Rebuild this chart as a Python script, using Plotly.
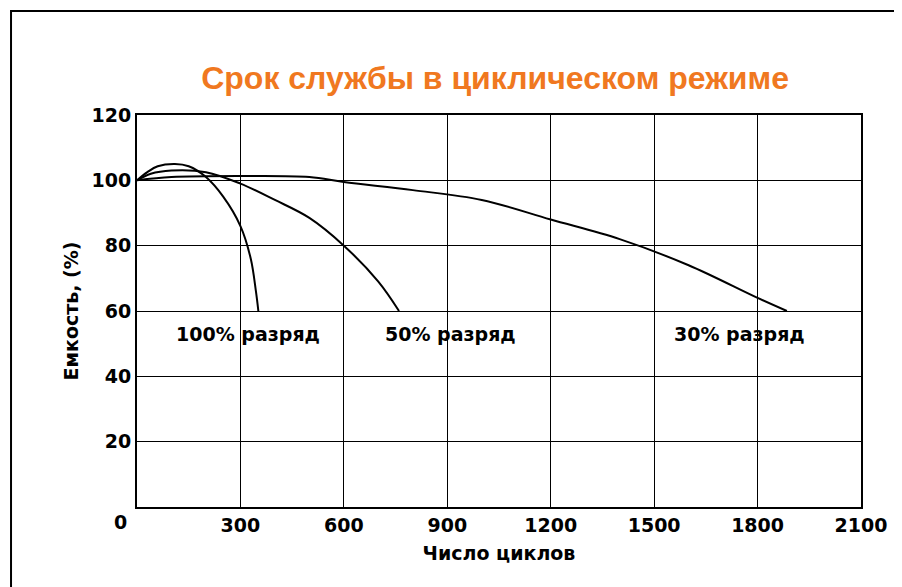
import plotly.graph_objects as go

x100 = [0, 30, 60, 110, 150, 200, 250, 300, 330, 345, 352]
y100 = [100, 102.5, 104.3, 105, 104.3, 101, 95, 86, 76, 66, 60]
x50 = [0, 40, 100, 200, 300, 400, 500, 600, 700, 760]
y50 = [100, 102, 103, 102.5, 99, 94, 88.5, 80, 69, 60]
x30 = [0, 100, 300, 500, 600, 800, 1000, 1200, 1400, 1600, 1800, 1885]
y30 = [100, 101, 101.3, 101, 99.5, 97, 94, 88, 82, 74, 64, 60]
xticks = [0, 300, 600, 900, 1200, 1500, 1800, 2100]
yticks = [0, 20, 40, 60, 80, 100, 120]
labels = [("100% разряд", 322), ("50% разряд", 908), ("30% разряд", 1749)]

BF = dict(family="DejaVu Sans", size=19, color="black", weight="bold")
fig = go.Figure()
for xs, ys in [(x100, y100), (x50, y50), (x30, y30)]:
    fig.add_trace(go.Scatter(x=xs, y=ys, mode="lines", line=dict(color="black", width=2, shape="spline"), showlegend=False))
for t, xv in labels:
    fig.add_annotation(x=xv, y=53, text=t, showarrow=False, xanchor="center", font=BF)
fig.update_layout(
    width=902, height=587, paper_bgcolor="white", plot_bgcolor="white",
    margin=dict(l=129, r=49, t=107, b=88, autoexpand=False),
    title=dict(text="Срок службы в циклическом режиме", x=0.54, xanchor="center", y=0.9,
               font=dict(family="Liberation Sans", size=32, color="#f07820")),
    font=BF,
    shapes=[dict(type="rect", xref="paper", yref="paper", x0=-0.174, x1=1.0635, y0=-0.217, y1=1.265,
                 line=dict(color="black", width=2))],
)
fig.update_xaxes(range=[0, 2100], tickvals=xticks, ticktext=[""] + [str(v) for v in xticks[1:]],
                 showgrid=True, gridcolor="black", gridwidth=1, showline=True, linecolor="black",
                 linewidth=2, mirror=True, zeroline=False, tickfont=BF, automargin=False,
                 title=dict(text="Число циклов", font=BF, standoff=12))
fig.update_yaxes(range=[0, 120], tickvals=yticks, ticktext=["", "20", "40", "60", "80", "100", "120"],
                 showgrid=True, gridcolor="black", gridwidth=1, showline=True, linecolor="black",
                 linewidth=2, mirror=True, zeroline=False, tickfont=BF, automargin=False,
                 title=dict(text="Емкость, (%)", font=BF, standoff=8))
fig.add_annotation(x=0, y=0, text="0", showarrow=False, xanchor="right", yanchor="top", xshift=-8, yshift=-2,
                   font=BF)
fig.write_html("out.html")
